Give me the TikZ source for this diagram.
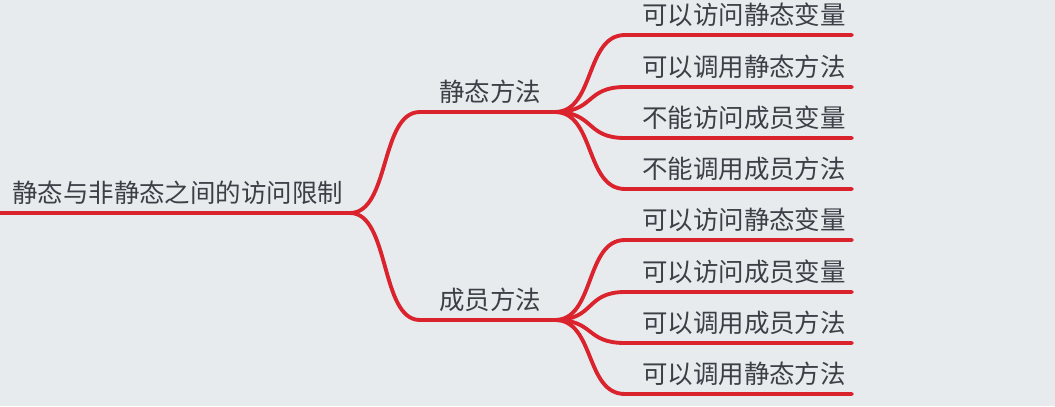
\documentclass[tikz,border=0pt]{standalone}
\usepackage{fontspec}
\newfontfamily\cjk{Noto Sans CJK SC}
\definecolor{mapbg}{RGB}{232, 235, 238}
\definecolor{mapred}{RGB}{218, 35, 45}
\definecolor{maptext}{RGB}{60, 64, 70}
\tikzset{
  topic/.style={anchor=south west,inner sep=1pt,font=\cjk\fontsize{14.5}{16}\selectfont,text=maptext},
  link/.style={mapred,line width=2.2pt,line cap=round},
}
\begin{document}
\begin{tikzpicture}[x=0.02cm,y=-0.02cm]
\fill[mapbg] (0,0) rectangle (1055,406);
\useasboundingbox (0,0) rectangle (1055,406);
% root
\coordinate (r0) at (0,213);
\coordinate (r1) at (350,213);
\node[topic] (root) at (10,207) {静态与非静态之间的访问限制};
\draw[link] (r0) -- (r1);
% second level
\foreach \name/\txt/\y in {s/静态方法/112, m/成员方法/320}{
  \coordinate (\name0) at (420,\y);
  \coordinate (\name1) at (555,\y);
  \node[topic] (\name) at (437,\y-6) {\txt};
  \draw[link] (r1) .. controls (390,213) and (380,\y) .. (\name0) -- (\name1);
}
% leaves
\foreach \i/\txt/\y in {1/可以访问静态变量/35, 2/可以调用静态方法/87, 3/不能访问成员变量/138, 4/不能调用成员方法/189}{
  \coordinate (sa\i) at (625,\y);
  \coordinate (sb\i) at (852,\y);
  \node[topic] (sl\i) at (640,\y-6) {\txt};
  \draw[link] (s1) .. controls (595,112) and (585,\y) .. (sa\i) -- (sb\i);
}
\foreach \i/\txt/\y in {1/可以访问静态变量/240, 2/可以访问成员变量/292, 3/可以调用成员方法/343, 4/可以调用静态方法/394}{
  \coordinate (ma\i) at (625,\y);
  \coordinate (mb\i) at (852,\y);
  \node[topic] (ml\i) at (640,\y-6) {\txt};
  \draw[link] (m1) .. controls (595,320) and (585,\y) .. (ma\i) -- (mb\i);
}
\end{tikzpicture}
\end{document}
